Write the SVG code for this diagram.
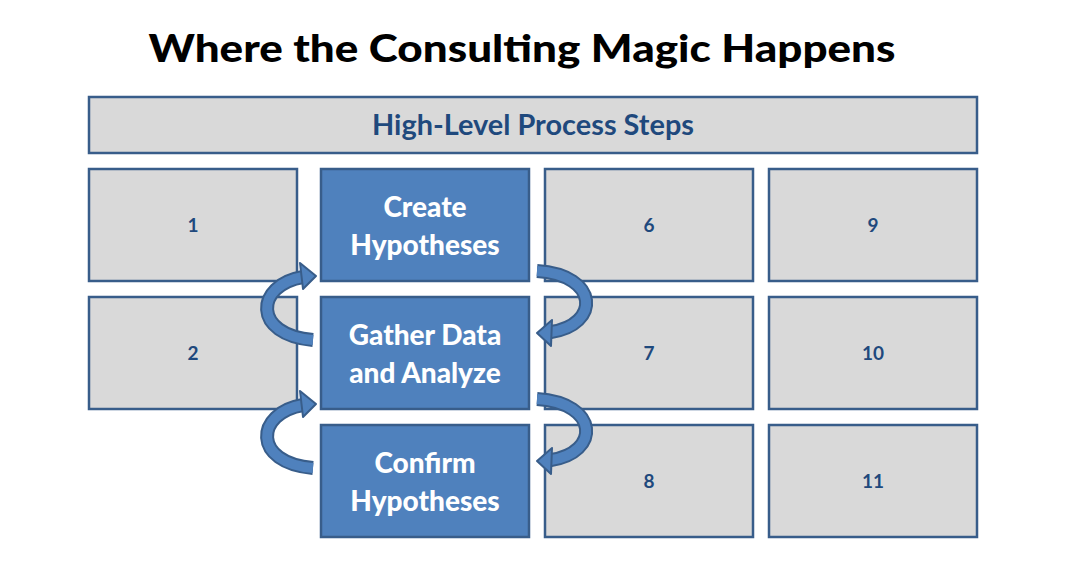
<svg xmlns="http://www.w3.org/2000/svg" width="1082" height="578" viewBox="0 0 1082 578">
<style>
.g{fill:#d9d9d9;stroke:#385d8a;stroke-width:2.5}
.b{fill:#4f81bd;stroke:#385d8a;stroke-width:2.5}
.gt{font-family:Lato,"Liberation Sans",sans-serif;font-weight:bold;font-size:19px;fill:#1f497d;text-anchor:middle}
.bt{font-family:Lato,"Liberation Sans",sans-serif;font-weight:900;font-size:28px;fill:#fff;text-anchor:middle}
.ao{fill:none;stroke:#385d8a;stroke-width:14}
.ai{fill:none;stroke:#4f81bd;stroke-width:10}
.ah{fill:#4f81bd;stroke:#385d8a;stroke-width:2;stroke-linejoin:round}
</style>
<rect width="1082" height="578" fill="#fff"/>
<text x="522" y="62" font-family="Lato,'Liberation Sans',sans-serif" font-weight="900" font-size="38" text-anchor="middle" textLength="747" lengthAdjust="spacingAndGlyphs">Where the Consulting Magic Happens</text>
<g id="header"><rect class="g" x="89" y="97" width="888" height="56"/><text class="gt" x="533" y="135" style="font-size:29px" textLength="322" lengthAdjust="spacingAndGlyphs">High-Level Process Steps</text></g>
<g id="n1"><rect class="g" x="89" y="169" width="208" height="112"/><text class="gt" x="193" y="232">1</text></g>
<g id="n2"><rect class="g" x="89" y="297" width="208" height="112"/><text class="gt" x="193" y="360">2</text></g>
<g id="n6"><rect class="g" x="545" y="169" width="208" height="112"/><text class="gt" x="649" y="232">6</text></g>
<g id="n7"><rect class="g" x="545" y="297" width="208" height="112"/><text class="gt" x="649" y="360">7</text></g>
<g id="n8"><rect class="g" x="545" y="425" width="208" height="112"/><text class="gt" x="649" y="488">8</text></g>
<g id="n9"><rect class="g" x="769" y="169" width="208" height="112"/><text class="gt" x="873" y="232">9</text></g>
<g id="n10"><rect class="g" x="769" y="297" width="208" height="112"/><text class="gt" x="873" y="360">10</text></g>
<g id="n11"><rect class="g" x="769" y="425" width="208" height="112"/><text class="gt" x="873" y="488">11</text></g>
<g id="create"><rect class="b" x="321" y="169" width="208" height="112"/><text class="bt" x="425" y="217">Create</text><text class="bt" x="425" y="255">Hypotheses</text></g>
<g id="gather"><rect class="b" x="321" y="297" width="208" height="112"/><text class="bt" x="425" y="345">Gather Data</text><text class="bt" x="425" y="383">and Analyze</text></g>
<g id="confirm"><rect class="b" x="321" y="425" width="208" height="112"/><text class="bt" x="425" y="473">Confirm</text><text class="bt" x="425" y="511">Hypotheses</text></g>
<g id="connectors">
<g id="l1"><path class="ao" d="M313,340 C252,335 255,285 303,277"/><path class="ai" d="M313,340 C252,335 255,285 303,277"/><polygon class="ah" points="316,276 300,263 303,289"/></g>
<g id="l2"><path class="ao" d="M313,468 C252,463 255,413 303,405"/><path class="ai" d="M313,468 C252,463 255,413 303,405"/><polygon class="ah" points="316,404 300,391 303,417"/></g>
<g id="r1"><path class="ao" d="M537,271 C600,275 600,325 551,332"/><path class="ai" d="M537,271 C600,275 600,325 551,332"/><polygon class="ah" points="537,333 552,320 551,346"/></g>
<g id="r2"><path class="ao" d="M537,399 C600,403 600,453 551,460"/><path class="ai" d="M537,399 C600,403 600,453 551,460"/><polygon class="ah" points="537,461 552,448 551,474"/></g>
</g>
</svg>
